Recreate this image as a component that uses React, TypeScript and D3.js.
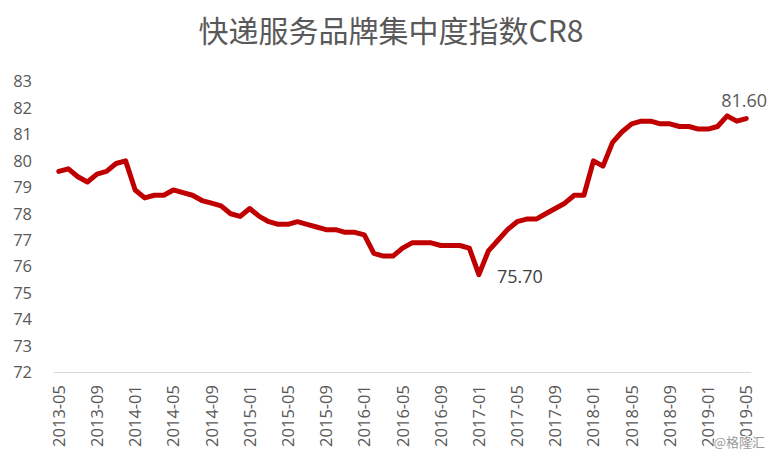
import React from 'react'
import * as d3 from 'd3'

const title = '快递服务品牌集中度指数CR8'

// monthly categories 2013-05 .. 2019-05
const months: string[] = []
for (let y = 2013, m = 5; y < 2019 || (y === 2019 && m <= 5); ) {
  months.push(`${y}-${String(m).padStart(2, '0')}`)
  m++
  if (m > 12) {
    m = 1
    y++
  }
}

const cr8 = [
  79.6, 79.7, 79.4, 79.2, 79.5, 79.6, 79.9, 80.0, 78.9, 78.6, 78.7, 78.7,
  78.9, 78.8, 78.7, 78.5, 78.4, 78.3, 78.0, 77.9, 78.2, 77.9, 77.7, 77.6,
  77.6, 77.7, 77.6, 77.5, 77.4, 77.4, 77.3, 77.3, 77.2, 76.5, 76.4, 76.4,
  76.7, 76.9, 76.9, 76.9, 76.8, 76.8, 76.8, 76.7, 75.7, 76.6, 77.0, 77.4,
  77.7, 77.8, 77.8, 78.0, 78.2, 78.4, 78.7, 78.7, 80.0, 79.8, 80.7, 81.1,
  81.4, 81.5, 81.5, 81.4, 81.4, 81.3, 81.3, 81.2, 81.2, 81.3, 81.7, 81.5,
  81.6,
]

const yTicks = [72, 73, 74, 75, 76, 77, 78, 79, 80, 81, 82, 83]
const labelledMonths = months.filter((_, i) => i % 4 === 0)
const callouts = [
  { month: '2017-01', text: '75.70', dx: 18, dy: 8, color: '#404040' },
  { month: '2019-05', text: '81.60', dx: -2, dy: -12, color: '#595959' },
]

const W = 774
const H = 463
const numFont = '"Open Sans", sans-serif'

export default function App() {
  const x = d3.scalePoint<string>().domain(months).range([54, 751]).padding(0.5)
  const y = d3.scaleLinear().domain([72, 83]).range([372.5, 81.5])
  const line = d3
    .line<number>()
    .x((_, i) => x(months[i]) as number)
    .y(d => y(d))

  return (
    <svg
      width={W}
      height={H}
      style={{ position: 'absolute', left: 0, top: 0, background: '#fff' }}
    >
      <text
        x={391}
        y={42}
        textAnchor="middle"
        fontSize={30}
        fill="#595959"
        fontFamily='"Noto Sans CJK SC", sans-serif'
      >
        {title}
      </text>

      {yTicks.map(t => (
        <text
          key={t}
          x={32}
          y={y(t)}
          dy="0.35em"
          textAnchor="end"
          fontSize={16.5}
          fill="#595959"
          fontFamily={numFont}
        >
          {t}
        </text>
      ))}

      <line x1={54} x2={751} y1={y(72)} y2={y(72)} stroke="#d9d9d9" strokeWidth={1} />

      {labelledMonths.map(m => (
        <text
          key={m}
          transform={`translate(${(x(m) as number) + 6},385) rotate(-90)`}
          textAnchor="end"
          fontSize={16.5}
          fill="#595959"
          fontFamily={numFont}
        >
          {m}
        </text>
      ))}

      <path
        d={line(cr8) || ''}
        fill="none"
        stroke="#C00000"
        strokeWidth={5}
        strokeLinejoin="round"
        strokeLinecap="round"
      />

      {callouts.map(c => {
        const i = months.indexOf(c.month)
        return (
          <text
            key={c.text}
            x={(x(c.month) as number) + c.dx}
            y={y(cr8[i]) + c.dy}
            fontSize={18}
            fill={c.color}
            fontFamily={numFont}
            textAnchor={c.dx < 0 ? 'middle' : 'start'}
          >
            {c.text}
          </text>
        )
      })}

      <text
        x={765}
        y={447}
        textAnchor="end"
        fontSize={13}
        fill="#9a9a9a"
        stroke="#fff"
        strokeWidth={2}
        paintOrder="stroke"
        fontFamily='"Noto Sans CJK SC", sans-serif'
      >
        @格隆汇
      </text>
    </svg>
  )
}
